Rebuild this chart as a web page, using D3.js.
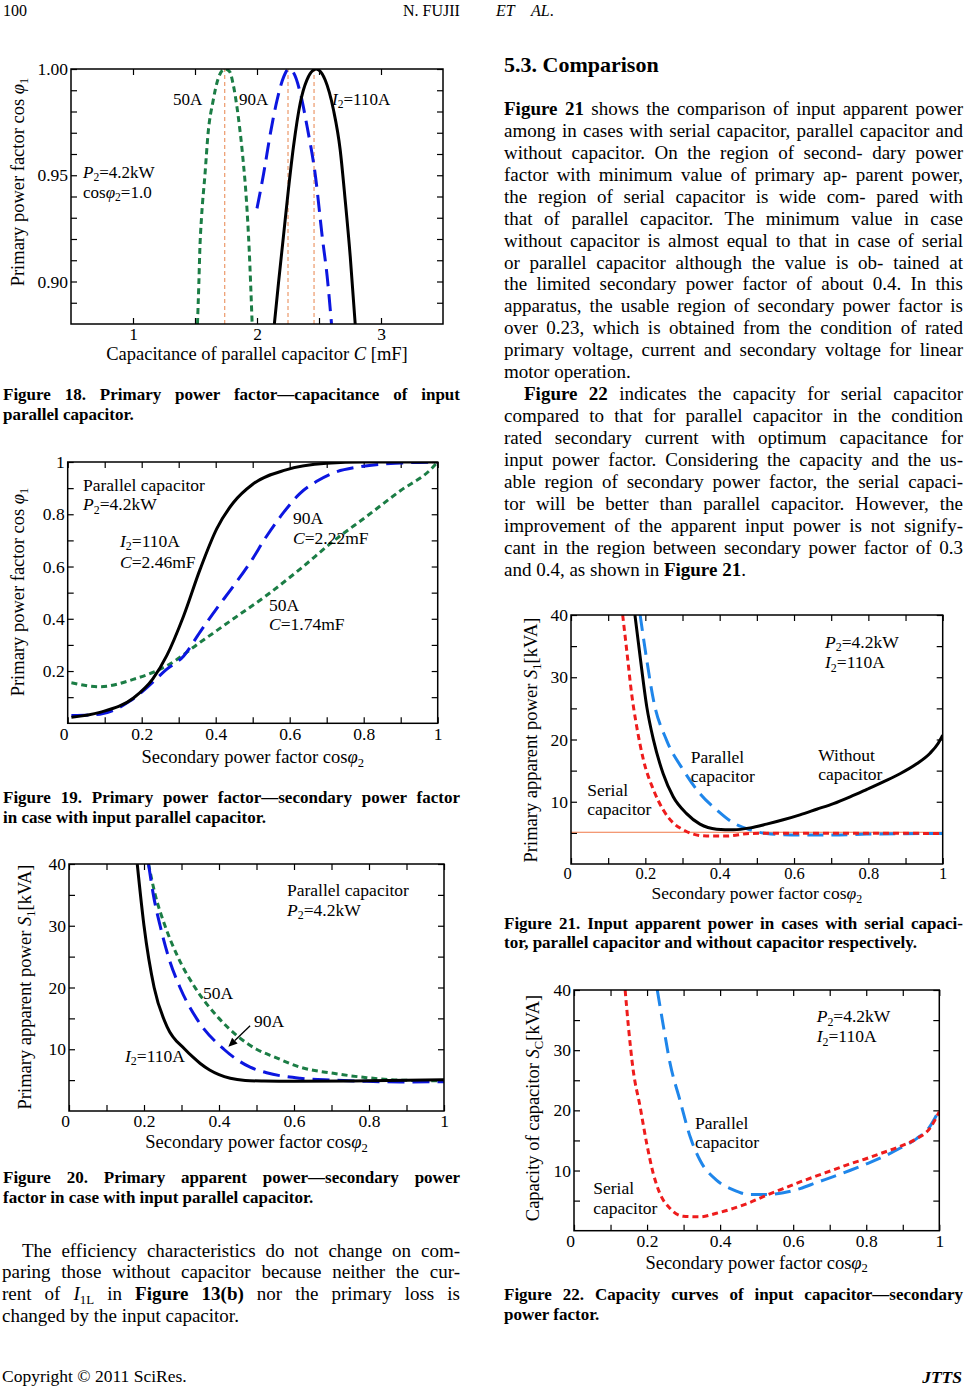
<!DOCTYPE html>
<html><head><meta charset="utf-8">
<script src="https://cdn.jsdelivr.net/npm/d3@7"></script>
<style>
body{margin:0;background:#fff}
svg{display:block}
text{font-family:"Liberation Serif","Times New Roman",serif;fill:#000}
</style>
</head><body>
<svg id="page" width="965" height="1386"></svg>
<script>
// ---------------- DATA ----------------
// Figure 18: primary power factor vs capacitance C [mF]
const f18XTicks = [1, 2, 3];
const f18XMinor = [1.5, 2.5];
const f18YTicks = [0.90, 0.95, 1.00];
const f18YMinor = [0.89, 0.91, 0.92, 0.93, 0.94, 0.96, 0.97, 0.98, 0.99];
const f18_50A = [[1.520,0.880],[1.531,0.899],[1.539,0.915],[1.553,0.9305],[1.580,0.950],[1.606,0.970],[1.646,0.985],[1.687,0.9955],[1.740,1.000],[1.780,0.9987],[1.807,0.993],[1.848,0.978],[1.888,0.957],[1.915,0.938],[1.937,0.915],[1.961,0.880]];
const f18_90A = [[2.000,0.9344],[2.054,0.9509],[2.108,0.9697],[2.162,0.9854],[2.216,0.9964],[2.256,1.000],[2.297,0.998],[2.350,0.9885],[2.404,0.9729],[2.472,0.9493],[2.526,0.9211],[2.566,0.9023],[2.601,0.880]];
const f18_110A = [[2.140,0.880],[2.173,0.8991],[2.213,0.9211],[2.253,0.9431],[2.294,0.9634],[2.348,0.9838],[2.402,0.9948],[2.477,1.000],[2.550,0.9948],[2.617,0.9807],[2.671,0.9619],[2.711,0.9384],[2.752,0.9117],[2.792,0.880]];
const f18_optC = [1.74, 2.25, 2.46];

// shared axis ticks for cos(phi2) axes
const pfTicks = [0, 0.2, 0.4, 0.6, 0.8, 1];
const pfMinor = [0.1, 0.3, 0.5, 0.7, 0.9];

// Figure 19: primary PF vs secondary PF
const f19YTicks = [0.2, 0.4, 0.6, 0.8, 1];
const f19YMinor = [0.1, 0.3, 0.5, 0.7, 0.9];
const f19_110A = [[0.01,0.023],[0.087,0.042],[0.177,0.096],[0.23,0.17],[0.268,0.26],[0.313,0.41],[0.358,0.59],[0.403,0.745],[0.448,0.845],[0.50,0.915],[0.59,0.97],[0.70,0.995],[0.80,1.0],[1.0,1.0]];
const f19_90A = [[0.01,0.03],[0.087,0.035],[0.168,0.085],[0.204,0.124],[0.268,0.207],[0.313,0.257],[0.358,0.35],[0.403,0.44],[0.448,0.525],[0.493,0.615],[0.538,0.717],[0.583,0.806],[0.628,0.88],[0.673,0.926],[0.718,0.958],[0.79,0.982],[0.9,0.996],[1.0,1.0]];
const f19_50A = [[0.01,0.155],[0.087,0.14],[0.177,0.168],[0.268,0.22],[0.358,0.31],[0.448,0.40],[0.538,0.49],[0.628,0.59],[0.718,0.697],[0.809,0.793],[0.899,0.89],[0.98,0.97],[1.0,1.0]];

// kVA axes (Figures 20-22)
const kvaTicks = [10, 20, 30, 40];
const kvaMinor = [5, 15, 25, 35];

// Figure 20: primary apparent power vs secondary PF (parallel capacitor)
const f20_110A = [[0.182,40],[0.2,30],[0.227,20],[0.262,13.6],[0.309,10],[0.33,8.75],[0.35,7.7],[0.375,6.65],[0.40,5.9],[0.43,5.3],[0.47,4.95],[0.52,4.85],[0.6,4.8],[0.8,4.9],[1.0,5.05]];
const f20_90A = [[0.212,40],[0.225,35],[0.243,30],[0.265,25],[0.296,20],[0.34,15],[0.413,10],[0.483,7.1],[0.527,6.2],[0.616,5.3],[0.705,5.0],[0.794,4.8],[0.883,4.7],[1.0,4.75]];
const f20_50A = [[0.212,40],[0.23,35],[0.256,30],[0.29,25],[0.336,20],[0.40,15],[0.50,10],[0.55,8.7],[0.616,7.1],[0.705,6.1],[0.794,5.4],[0.883,5.0],[1.0,4.9]];
const f20_arrow = [[0.483,13.8],[0.425,10.4]];

// Figure 21: input apparent power, serial / parallel / without capacitor
const f21_serial = [[0.139,40],[0.150,34.3],[0.163,27.4],[0.177,22.0],[0.195,16.7],[0.222,11.9],[0.248,8.7],[0.275,6.6],[0.302,5.5],[0.329,4.8],[0.365,4.5],[0.419,4.5],[0.482,4.9],[0.571,4.95],[0.8,4.95],[1.0,4.9]];
const f21_without = [[0.172,40],[0.186,33.3],[0.204,25.2],[0.222,19.9],[0.248,14.5],[0.275,10.8],[0.311,8.1],[0.347,6.4],[0.392,5.6],[0.437,5.5],[0.482,5.8],[0.526,6.4],[0.571,7.1],[0.616,7.9],[0.661,8.8],[0.706,9.7],[0.751,10.8],[0.796,12.0],[0.840,13.2],[0.885,14.5],[0.93,16.1],[0.966,17.8],[0.988,19.4],[1.0,20.7]];
const f21_parallel = [[0.186,40],[0.204,32.7],[0.222,26.3],[0.257,19.9],[0.302,15.1],[0.347,11.3],[0.392,8.7],[0.437,6.6],[0.482,5.5],[0.526,4.9],[0.616,4.65],[0.706,4.65],[0.796,4.8],[1.0,4.9]];
const f21_minLevel = 5.1;

// Figure 22: capacity of capacitor
const f22_serial = [[0.14,40],[0.149,33.9],[0.162,26.7],[0.181,20.6],[0.199,14.5],[0.217,9.5],[0.235,6.2],[0.263,3.7],[0.299,2.4],[0.345,2.3],[0.39,2.9],[0.436,3.7],[0.482,4.7],[0.527,5.9],[0.573,7.0],[0.619,8.1],[0.664,9.1],[0.71,10.1],[0.755,11.1],[0.801,12.0],[0.847,13.0],[0.892,14.0],[0.938,15.3],[0.974,17.0],[1.0,19.8]];
const f22_parallel = [[0.228,40],[0.245,33.9],[0.263,27.8],[0.29,21.7],[0.318,15.6],[0.345,11.7],[0.39,8.4],[0.436,6.8],[0.482,6.0],[0.527,6.0],[0.573,6.3],[0.619,7.0],[0.664,8.0],[0.71,9.0],[0.755,10.0],[0.801,11.1],[0.847,12.3],[0.892,13.7],[0.938,15.3],[0.974,17.3],[1.0,20.1]];

// ---------------- HELPERS ----------------
const svg = d3.select("#page");
const defs = svg.append("defs");

function rich(parent, str, x, y, o = {}) {
  const fs = o.size || 18;
  const t = parent.append("text").attr("x", x).attr("y", y).attr("font-size", fs);
  if (o.weight) t.attr("font-weight", o.weight);
  if (o.style) t.attr("font-style", o.style);
  if (o.anchor) t.attr("text-anchor", o.anchor);
  if (o.rotate) t.attr("transform", `rotate(${o.rotate},${x},${y})`);
  let it = false, b = false, buf = "", segs = [];
  const flush = () => { if (buf) { segs.push({t: buf, it, b, sub: false}); buf = ""; } };
  for (let i = 0; i < str.length; i++) {
    const c = str[i];
    if (c === "*") { flush(); it = !it; continue; }
    if (c === "#") { flush(); b = !b; continue; }
    if (c === "_" && str[i + 1] === "{") {
      flush(); const j = str.indexOf("}", i);
      segs.push({t: str.slice(i + 2, j), it: false, b, sub: true}); i = j; continue;
    }
    buf += c;
  }
  flush();
  let shifted = false;
  const off = fs * 0.2;
  segs.forEach(s => {
    const ts = t.append("tspan").text(s.t);
    if (s.it) ts.attr("font-style", "italic");
    if (s.b) ts.attr("font-weight", "bold");
    if (s.sub) { ts.attr("font-size", fs * 0.68); if (!shifted) { ts.attr("dy", off); shifted = true; } }
    else if (shifted) { ts.attr("dy", -off); shifted = false; }
  });
  if (o.width) {
    const w = t.node().getComputedTextLength();
    const n = (str.replace(/[*#]/g, "").match(/ /g) || []).length;
    if (n > 0) t.style("word-spacing", ((o.width - w) / n) + "px");
  }
  return t;
}

function para(lines, x0, x1, y0, lh, o = {}) {
  lines.forEach((ln, i) => {
    const ind = (i === 0 && o.indent) ? o.indent : 0;
    const last = i === lines.length - 1 && !o.justifyLast;
    rich(svg, ln, x0 + ind, y0 + i * lh, {size: o.size || 19, weight: o.weight, width: last ? null : (x1 - x0 - ind)});
  });
}

const STY = {
  black: {c: "#000000", w: 3, d: null},
  green: {c: "#1b7d45", w: 3, d: "6,4"},
  blue: {c: "#0c16e0", w: 3, d: "17,8"},
  red: {c: "#ee1c1c", w: 3, d: "6,4"},
  lblue: {c: "#1f86ea", w: 3, d: "16,8"}
};

function chart(cfg) {
  const g = svg.append("g");
  const x = d3.scaleLinear().domain(cfg.xd).range([cfg.l, cfg.r]);
  const y = d3.scaleLinear().domain(cfg.yd).range([cfg.b, cfg.t]);
  const cid = "clip" + cfg.id;
  defs.append("clipPath").attr("id", cid).append("rect")
    .attr("x", cfg.l).attr("y", cfg.t).attr("width", cfg.r - cfg.l).attr("height", cfg.b - cfg.t);
  const T = 6;
  const xpad = cfg.xpad || 4;
  const mk = (ax, vals, fmt, pad) => ax.tickValues(vals).tickFormat(fmt).tickSizeInner(-T).tickSizeOuter(0).tickPadding(pad);
  const gb = g.append("g").attr("transform", `translate(0,${cfg.b})`).call(mk(d3.axisBottom(x), cfg.xt, cfg.xf, xpad));
  g.append("g").attr("transform", `translate(0,${cfg.b})`).call(mk(d3.axisBottom(x), cfg.xm, () => "", xpad));
  g.append("g").attr("transform", `translate(0,${cfg.t})`).call(mk(d3.axisTop(x), cfg.xt.concat(cfg.xm), () => "", 4));
  g.append("g").attr("transform", `translate(${cfg.l},0)`).call(mk(d3.axisLeft(y), cfg.yt, cfg.yf, 3));
  g.append("g").attr("transform", `translate(${cfg.l},0)`).call(mk(d3.axisLeft(y), cfg.ym, () => "", 3));
  g.append("g").attr("transform", `translate(${cfg.r},0)`).call(mk(d3.axisRight(y), cfg.yt.concat(cfg.ym), () => "", 3));
  g.selectAll(".domain").remove();
  g.selectAll(".tick line").attr("stroke", "#000").attr("stroke-width", 1.2);
  g.selectAll(".tick text").attr("font-family", '"Liberation Serif","Times New Roman",serif').attr("font-size", 17.5).attr("fill", "#000");
  if (cfg.xTickSize) gb.selectAll(".tick text").attr("font-size", cfg.xTickSize);
  gb.selectAll(".tick text").filter(d => d === 0).attr("dx", -4);

  const pg = g.append("g").attr("clip-path", `url(#${cid})`);
  if (cfg.extra) cfg.extra(pg, x, y);
  const line = d3.line().x(d => x(d[0])).y(d => y(d[1])).curve(d3.curveMonotoneX);
  cfg.series.forEach(s => {
    const st = STY[s.s];
    const p = pg.append("path").datum(s.d).attr("d", line).attr("fill", "none")
      .attr("stroke", st.c).attr("stroke-width", st.w).attr("stroke-linejoin", "round");
    if (st.d) p.attr("stroke-dasharray", st.d);
  });
  g.append("rect").attr("x", cfg.l).attr("y", cfg.t).attr("width", cfg.r - cfg.l).attr("height", cfg.b - cfg.t)
    .attr("fill", "none").attr("stroke", "#000").attr("stroke-width", 1.5);
  rich(g, cfg.xlab, (cfg.l + cfg.r) / 2, cfg.xlabY, {size: cfg.xlabSize || 18.5, anchor: "middle"});
  rich(g, cfg.ylab, cfg.ylabX, cfg.ylabY, {size: 18.5, anchor: "middle", rotate: -90});
  (cfg.notes || []).forEach(n => rich(g, n[0], n[1], n[2], {size: cfg.noteSize || 17.5}));
  if (cfg.after) cfg.after(g, x, y);
}

const pfFmt = d => d === 0 ? "0" : d === 1 ? "1" : d3.format(".1f")(d);

// ---------------- FIGURES ----------------
chart({id: 18, l: 71, r: 443, t: 69, b: 324, xd: [0.5, 3.5], yd: [0.88, 1.0],
  xt: f18XTicks, xm: f18XMinor, yt: f18YTicks, ym: f18YMinor, xf: d3.format("d"), yf: d3.format(".2f"),
  series: [{d: f18_50A, s: "green"}, {d: f18_90A, s: "blue"}, {d: f18_110A, s: "black"}],
  extra: (pg, x, y) => {
    pg.selectAll("line.opt").data(f18_optC).join("line").attr("class", "opt")
      .attr("x1", d => x(d)).attr("x2", d => x(d)).attr("y1", y(0.88)).attr("y2", y(1.0))
      .attr("stroke", "#e8844c").attr("stroke-width", 1).attr("stroke-dasharray", "4,3");
  },
  xlab: "Capacitance of parallel capacitor  *C* [mF]", xlabY: 360,
  ylab: "Primary power factor cos *φ*_{1}", ylabX: 24, ylabY: 182,
  noteSize: 17,
  notes: [["50A", 173, 105], ["90A", 239, 105], ["*I*_{2}=110A", 332, 105], ["*P*_{2}=4.2kW", 83, 177.5], ["cos*φ*_{2}=1.0", 83, 198]]
});

chart({id: 19, l: 67.7, r: 437.7, t: 462, b: 723.3, xd: [0, 1], yd: [0, 1],
  xt: pfTicks, xm: pfMinor, yt: f19YTicks, ym: f19YMinor, xf: pfFmt, yf: pfFmt,
  series: [{d: f19_50A, s: "green"}, {d: f19_90A, s: "blue"}, {d: f19_110A, s: "black"}],
  xlab: "Secondary power factor cos*φ*_{2}", xlabY: 763,
  ylab: "Primary power factor cos *φ*_{1}", ylabX: 24, ylabY: 592,
  notes: [["Parallel capacitor", 83, 490.5], ["*P*_{2}=4.2kW", 83, 510], ["*I*_{2}=110A", 120, 546.5], ["*C*=2.46mF", 120, 567.5],
          ["90A", 293, 524], ["*C*=2.22mF", 293, 544], ["50A", 269, 610.5], ["*C*=1.74mF", 269, 630]]
});

chart({id: 20, l: 69, r: 444, t: 864, b: 1111, xd: [0, 1], yd: [0, 40],
  xt: pfTicks, xm: pfMinor, yt: kvaTicks, ym: kvaMinor, xf: pfFmt, yf: d3.format("d"),
  series: [{d: f20_50A, s: "green"}, {d: f20_90A, s: "blue"}, {d: f20_110A, s: "black"}],
  xlab: "Secondary power factor cos*φ*_{2}", xlabY: 1148,
  ylab: "Primary apparent power  *S*_{1}[kVA]", ylabX: 31, ylabY: 987,
  notes: [["Parallel capacitor", 287, 895.5], ["*P*_{2}=4.2kW", 287, 915.5], ["50A", 203, 999], ["90A", 254, 1026.5], ["*I*_{2}=110A", 125, 1061.5]],
  after: (g, x, y) => {
    const [p0, p1] = f20_arrow;
    const x0 = x(p0[0]), y0 = y(p0[1]), x1 = x(p1[0]), y1 = y(p1[1]);
    const ang = Math.atan2(y1 - y0, x1 - x0);
    const L = 9, W = 4;
    const bx = x1 - L * Math.cos(ang), by = y1 - L * Math.sin(ang);
    g.append("line").attr("x1", x0).attr("y1", y0).attr("x2", bx).attr("y2", by).attr("stroke", "#000").attr("stroke-width", 1.3);
    g.append("path").attr("d", `M${x1},${y1}L${bx - W * Math.sin(ang)},${by + W * Math.cos(ang)}L${bx + W * Math.sin(ang)},${by - W * Math.cos(ang)}Z`).attr("fill", "#000");
  }
});

chart({id: 21, l: 571, r: 942.7, t: 615, b: 864, xd: [0, 1], yd: [0, 40],
  xt: pfTicks, xm: pfMinor, yt: kvaTicks, ym: kvaMinor, xf: pfFmt, yf: d3.format("d"),
  xTickSize: 16.5, xpad: 3, xlabSize: 17.5,
  series: [{d: f21_parallel, s: "lblue"}, {d: f21_serial, s: "red"}, {d: f21_without, s: "black"}],
  extra: (pg, x, y) => {
    pg.append("line").attr("x1", x(0)).attr("x2", x(1)).attr("y1", y(f21_minLevel)).attr("y2", y(f21_minLevel))
      .attr("stroke", "#f07848").attr("stroke-width", 1);
  },
  xlab: "Secondary power factor cos*φ*_{2}", xlabY: 899,
  ylab: "Primary apparent power  *S*_{1}[kVA]", ylabX: 537, ylabY: 740,
  notes: [["*P*_{2}=4.2kW", 825, 647.5], ["*I*_{2}=110A", 825, 668], ["Parallel", 690.7, 762.5], ["capacitor", 690.7, 782],
          ["Without", 818.3, 761], ["capacitor", 818.3, 780], ["Serial", 587.3, 795.5], ["capacitor", 587.3, 814.5]]
});

chart({id: 22, l: 574, r: 939.3, t: 990, b: 1230.7, xd: [0, 1], yd: [0, 40],
  xt: pfTicks, xm: pfMinor, yt: kvaTicks, ym: kvaMinor, xf: pfFmt, yf: d3.format("d"),
  series: [{d: f22_parallel, s: "lblue"}, {d: f22_serial, s: "red"}],
  xlab: "Secondary power factor cos*φ*_{2}", xlabY: 1268.5,
  ylab: "Capacity of capacitor  *S*_{C}[kVA]", ylabX: 539, ylabY: 1108,
  notes: [["*P*_{2}=4.2kW", 816.7, 1022], ["*I*_{2}=110A", 816.7, 1042], ["Parallel", 695, 1129], ["capacitor", 695, 1147.5],
          ["Serial", 593.3, 1194], ["capacitor", 593.3, 1213.5]]
});

// ---------------- PAGE TEXT ----------------
rich(svg, "100", 3, 16, {size: 16});
rich(svg, "N. FUJII", 403, 16, {size: 16});
rich(svg, "*ET*", 496, 16, {size: 16});
rich(svg, "*AL*.", 531, 16, {size: 16});

rich(svg, "5.3. Comparison", 504, 71.7, {size: 22, weight: "bold"});
para([
  "#Figure 21# shows the comparison of input apparent power",
  "among in cases with serial capacitor, parallel capacitor and",
  "without capacitor. On the region of second- dary power",
  "factor with minimum value of primary ap- parent power,",
  "the region of serial capacitor is wide com- pared with",
  "that of parallel capacitor. The minimum value in case",
  "without capacitor is almost equal to that in case of serial",
  "or parallel capacitor although the value is ob- tained at",
  "the limited secondary power factor of about 0.4. In this",
  "apparatus, the usable region of secondary power factor is",
  "over 0.23, which is obtained from the condition of rated",
  "primary voltage, current and secondary voltage for linear",
  "motor operation."
], 504, 963, 115, 21.93);
para([
  "#Figure 22# indicates the capacity for serial capacitor",
  "compared to that for parallel capacitor in the condition",
  "rated secondary current with optimum capacitance for",
  "input power factor. Considering the capacity and the us-",
  "able region of secondary power factor, the serial capaci-",
  "tor will be better than parallel capacitor. However, the",
  "improvement of the apparent input power is not signify-",
  "cant in the region between secondary power factor of 0.3",
  "and 0.4, as shown in #Figure 21#."
], 504, 963, 115 + 13 * 21.93, 21.93, {indent: 20});

para(["Figure 18. Primary power factor—capacitance of input", "parallel capacitor."], 3, 460, 400, 20, {size: 17, weight: "bold"});
para(["Figure 19. Primary power factor—secondary power factor", "in case with input parallel capacitor."], 3, 460, 803, 19.5, {size: 17, weight: "bold"});
para(["Figure 20. Primary apparent power—secondary power", "factor in case with input parallel capacitor."], 3, 460, 1182.5, 20.5, {size: 17, weight: "bold"});
para(["Figure 21. Input apparent power in cases with serial capaci-", "tor, parallel capacitor and without capacitor respectively."], 504, 963, 929, 19, {size: 17, weight: "bold"});
para(["Figure 22. Capacity curves of input capacitor—secondary", "power factor."], 504, 963, 1300, 19.5, {size: 17, weight: "bold"});

para([
  "The efficiency characteristics do not change on com-",
  "paring those without capacitor because neither the cur-",
  "rent of *I*_{1L} in #Figure 13(b)# nor the primary loss is",
  "changed by the input capacitor."
], 2, 460, 1256.5, 21.9, {indent: 20});

rich(svg, "Copyright © 2011 SciRes.", 2, 1382, {size: 17.5});
rich(svg, "JTTS", 962, 1383, {size: 17.5, weight: "bold", style: "italic", anchor: "end"});
</script>
</body></html>
